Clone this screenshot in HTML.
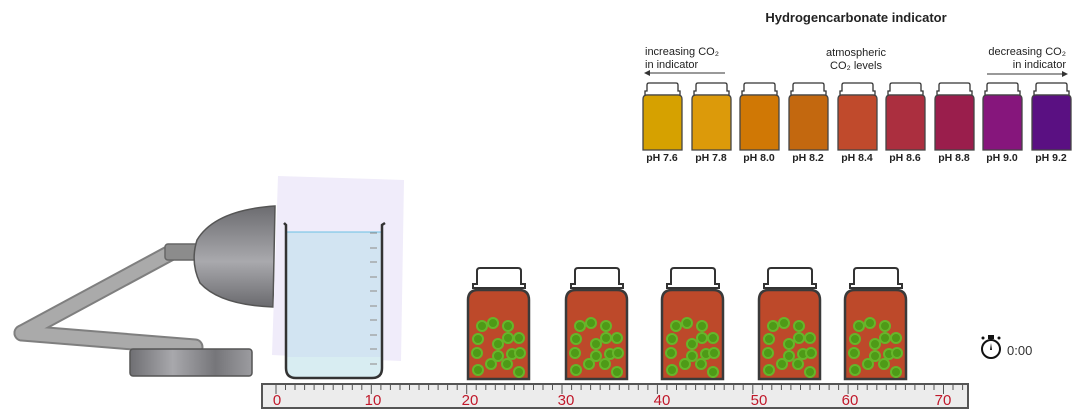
<!DOCTYPE html>
<html><head><meta charset="utf-8"><style>
html,body{margin:0;padding:0;background:#fff;}
svg{display:block;font-family:"Liberation Sans",sans-serif;}
</style></head><body>
<svg width="1080" height="414" viewBox="0 0 1080 414" xmlns="http://www.w3.org/2000/svg">
<defs>
<linearGradient id="shade" x1="0" y1="0" x2="0" y2="1">
<stop offset="0" stop-color="#6c6c70"/><stop offset="0.55" stop-color="#a9a9ad"/><stop offset="1" stop-color="#6a6a6e"/></linearGradient>
<linearGradient id="base" x1="0" y1="0" x2="1" y2="0">
<stop offset="0" stop-color="#6f6f73"/><stop offset="0.35" stop-color="#a8a8ac"/><stop offset="0.7" stop-color="#76767a"/><stop offset="1" stop-color="#9c9ca0"/></linearGradient>
<g id="jar">
<path d="M5,288 L5,284 L9,284 L9,271 Q9,268 12,268 L50,268 Q53,268 53,271 L53,284 L57,284 L57,288 Z" fill="#fff" stroke="#333" stroke-width="2"/>
<path d="M0,379 L0,300 Q0,290 10,290 L51,290 Q61,290 61,300 L61,379 Z" fill="#bd492a" stroke="#3a3a3a" stroke-width="2.5"/>
<g fill="#4e9a17" stroke="#66b62a" stroke-width="2">
<circle cx="14" cy="326" r="5"/><circle cx="25" cy="323" r="5"/><circle cx="40" cy="326" r="5"/>
<circle cx="10" cy="339" r="5"/><circle cx="40" cy="338" r="5"/><circle cx="51" cy="338" r="5"/>
<circle cx="30" cy="344" r="5"/><circle cx="9" cy="353" r="5"/><circle cx="30" cy="356" r="5"/>
<circle cx="44" cy="354" r="5"/><circle cx="52" cy="353" r="5"/><circle cx="23" cy="364" r="5"/>
<circle cx="39" cy="364" r="5"/><circle cx="10" cy="370" r="5"/><circle cx="51" cy="372" r="5"/>
</g>
</g>
<g id="sj">
<path d="M2,95 L2,91 L4,91 L4,85 Q4,83 6,83 L33,83 Q35,83 35,85 L35,91 L37,91 L37,95 Z" fill="#fff" stroke="#333" stroke-width="1.3"/>
<path d="M0,150 L0,99 Q0,95 4,95 L35,95 Q39,95 39,99 L39,150 Z" stroke="#444" stroke-width="1.3"/>
</g>
</defs>

<text x="856" y="22" text-anchor="middle" font-size="13" font-weight="bold" fill="#222">Hydrogencarbonate indicator</text>
<g font-size="11" fill="#222">
<text x="645" y="55">increasing CO₂</text><text x="645" y="68">in indicator</text>
<text x="856" y="56" text-anchor="middle">atmospheric</text><text x="856" y="69" text-anchor="middle">CO₂ levels</text>
<text x="1066" y="55" text-anchor="end">decreasing CO₂</text><text x="1066" y="68" text-anchor="end">in indicator</text>
</g>
<line x1="648" y1="73" x2="725" y2="73" stroke="#333" stroke-width="1"/><path d="M644,73 L650,70 L650,76Z" fill="#333"/>
<line x1="987" y1="74" x2="1064" y2="74" stroke="#333" stroke-width="1"/><path d="M1068,74 L1062,71 L1062,77Z" fill="#333"/>
<use href="#sj" x="643" fill="#d6a100"/>
<use href="#sj" x="692" fill="#dc9a0a"/>
<use href="#sj" x="740" fill="#d07805"/>
<use href="#sj" x="789" fill="#c3680f"/>
<use href="#sj" x="838" fill="#c04a2c"/>
<use href="#sj" x="886" fill="#ab2f3f"/>
<use href="#sj" x="935" fill="#9a1e4c"/>
<use href="#sj" x="983" fill="#86167c"/>
<use href="#sj" x="1032" fill="#5a1082"/>
<g font-size="10.5" font-weight="bold" fill="#222" text-anchor="middle">
<text x="662" y="161">pH 7.6</text><text x="711" y="161">pH 7.8</text><text x="759" y="161">pH 8.0</text>
<text x="808" y="161">pH 8.2</text><text x="857" y="161">pH 8.4</text><text x="905" y="161">pH 8.6</text>
<text x="954" y="161">pH 8.8</text><text x="1002" y="161">pH 9.0</text><text x="1051" y="161">pH 9.2</text>
</g>

<!-- lamp arms -->
<g stroke-linecap="round" fill="none">
<line x1="22" y1="333" x2="172" y2="252" stroke="#7f7f7f" stroke-width="17"/>
<line x1="22" y1="333" x2="195" y2="347" stroke="#7f7f7f" stroke-width="17"/>
<line x1="22" y1="333" x2="172" y2="252" stroke="#aaaaaa" stroke-width="13"/>
<line x1="22" y1="333" x2="195" y2="347" stroke="#aaaaaa" stroke-width="13"/>
</g>
<rect x="165" y="244" width="33" height="16" rx="3" fill="#8c8c8c" stroke="#666" stroke-width="1.5"/>
<path d="M275,206 Q215,210 197,240 Q190,262 200,283 Q220,305 273,307 Z" fill="url(#shade)" stroke="#555" stroke-width="1.5"/>
<rect x="130" y="349" width="122" height="27" rx="3" fill="url(#base)" stroke="#555" stroke-width="1.5"/>

<path d="M278,176 L404,180 L401,361 L272,355 Z" fill="#f0ecfa"/>
<path d="M287,232 L381,232 L381,368 Q381,377 372,377 L296,377 Q287,377 287,368 Z" fill="#d2e4f2"/>
<path d="M287,357 L381,357 L381,368 Q381,377 372,377 L296,377 Q287,377 287,368 Z" fill="#d8edf2"/>
<line x1="287" y1="232" x2="381" y2="232" stroke="#6cc0e4" stroke-width="1"/>
<path d="M284,223 L286,225 L286,368 Q286,378 296,378 L372,378 Q382,378 382,368 L382,225 L385,223" fill="none" stroke="#333" stroke-width="2.5"/>
<g stroke="#999" stroke-width="1.2">
<line x1="370" x2="377" y1="233" y2="233"/><line x1="370" x2="377" y1="248" y2="248"/><line x1="370" x2="377" y1="262" y2="262"/>
<line x1="370" x2="377" y1="277" y2="277"/><line x1="370" x2="377" y1="291" y2="291"/><line x1="370" x2="377" y1="306" y2="306"/>
<line x1="370" x2="377" y1="320" y2="320"/><line x1="370" x2="377" y1="335" y2="335"/><line x1="370" x2="377" y1="349" y2="349"/>
<line x1="370" x2="377" y1="364" y2="364"/></g>

<rect x="262" y="384" width="706" height="24" fill="#ececec" stroke="#555" stroke-width="2"/>
<g stroke="#555" stroke-width="1">
<path d="M276,385v9 M285.5,385v5 M295,385v5 M304.6,385v5 M314.1,385v5 M323.7,385v5 M333.2,385v5 M342.7,385v5 M352.3,385v5 M361.8,385v5 M371.3,385v9 M380.9,385v5 M390.4,385v5 M400,385v5 M409.5,385v5 M419,385v5 M428.6,385v5 M438.1,385v5 M447.6,385v5 M457.2,385v5 M466.7,385v9 M476.2,385v5 M485.8,385v5 M495.3,385v5 M504.9,385v5 M514.4,385v5 M523.9,385v5 M533.5,385v5 M543,385v5 M552.5,385v5 M562,385v9 M571.6,385v5 M581.1,385v5 M590.6,385v5 M600.2,385v5 M609.7,385v5 M619.3,385v5 M628.8,385v5 M638.3,385v5 M647.9,385v5 M657.4,385v9 M666.9,385v5 M676.5,385v5 M686,385v5 M695.6,385v5 M705.1,385v5 M714.6,385v5 M724.2,385v5 M733.7,385v5 M743.2,385v5 M752.8,385v9 M762.3,385v5 M771.8,385v5 M781.4,385v5 M790.9,385v5 M800.5,385v5 M810,385v5 M819.5,385v5 M829.1,385v5 M838.6,385v5 M848.1,385v9 M857.7,385v5 M867.2,385v5 M876.8,385v5 M886.3,385v5 M895.8,385v5 M905.4,385v5 M914.9,385v5 M924.4,385v5 M934,385v5 M943.5,385v9 M953,385v5 M962.6,385v5"/>
</g>
<g font-size="15" fill="#c0182a" text-anchor="middle">
<text x="277" y="405">0</text><text x="373" y="405">10</text><text x="470" y="405">20</text><text x="566" y="405">30</text>
<text x="662" y="405">40</text><text x="759" y="405">50</text><text x="850" y="405">60</text><text x="943" y="405">70</text>
</g>

<use href="#jar" x="468"/>
<use href="#jar" x="566"/>
<use href="#jar" x="662"/>
<use href="#jar" x="759"/>
<use href="#jar" x="845"/>

<circle cx="991" cy="349" r="9" fill="none" stroke="#111" stroke-width="2"/>
<rect x="988" y="335" width="6" height="4" fill="#111"/>
<circle cx="983" cy="338" r="1.5" fill="#111"/><circle cx="999" cy="338" r="1.5" fill="#111"/>
<path d="M991,343 L992,350 L990,350 Z" fill="#111"/>
<text x="1007" y="355" font-size="13" fill="#333">0:00</text>
</svg>
</body></html>
